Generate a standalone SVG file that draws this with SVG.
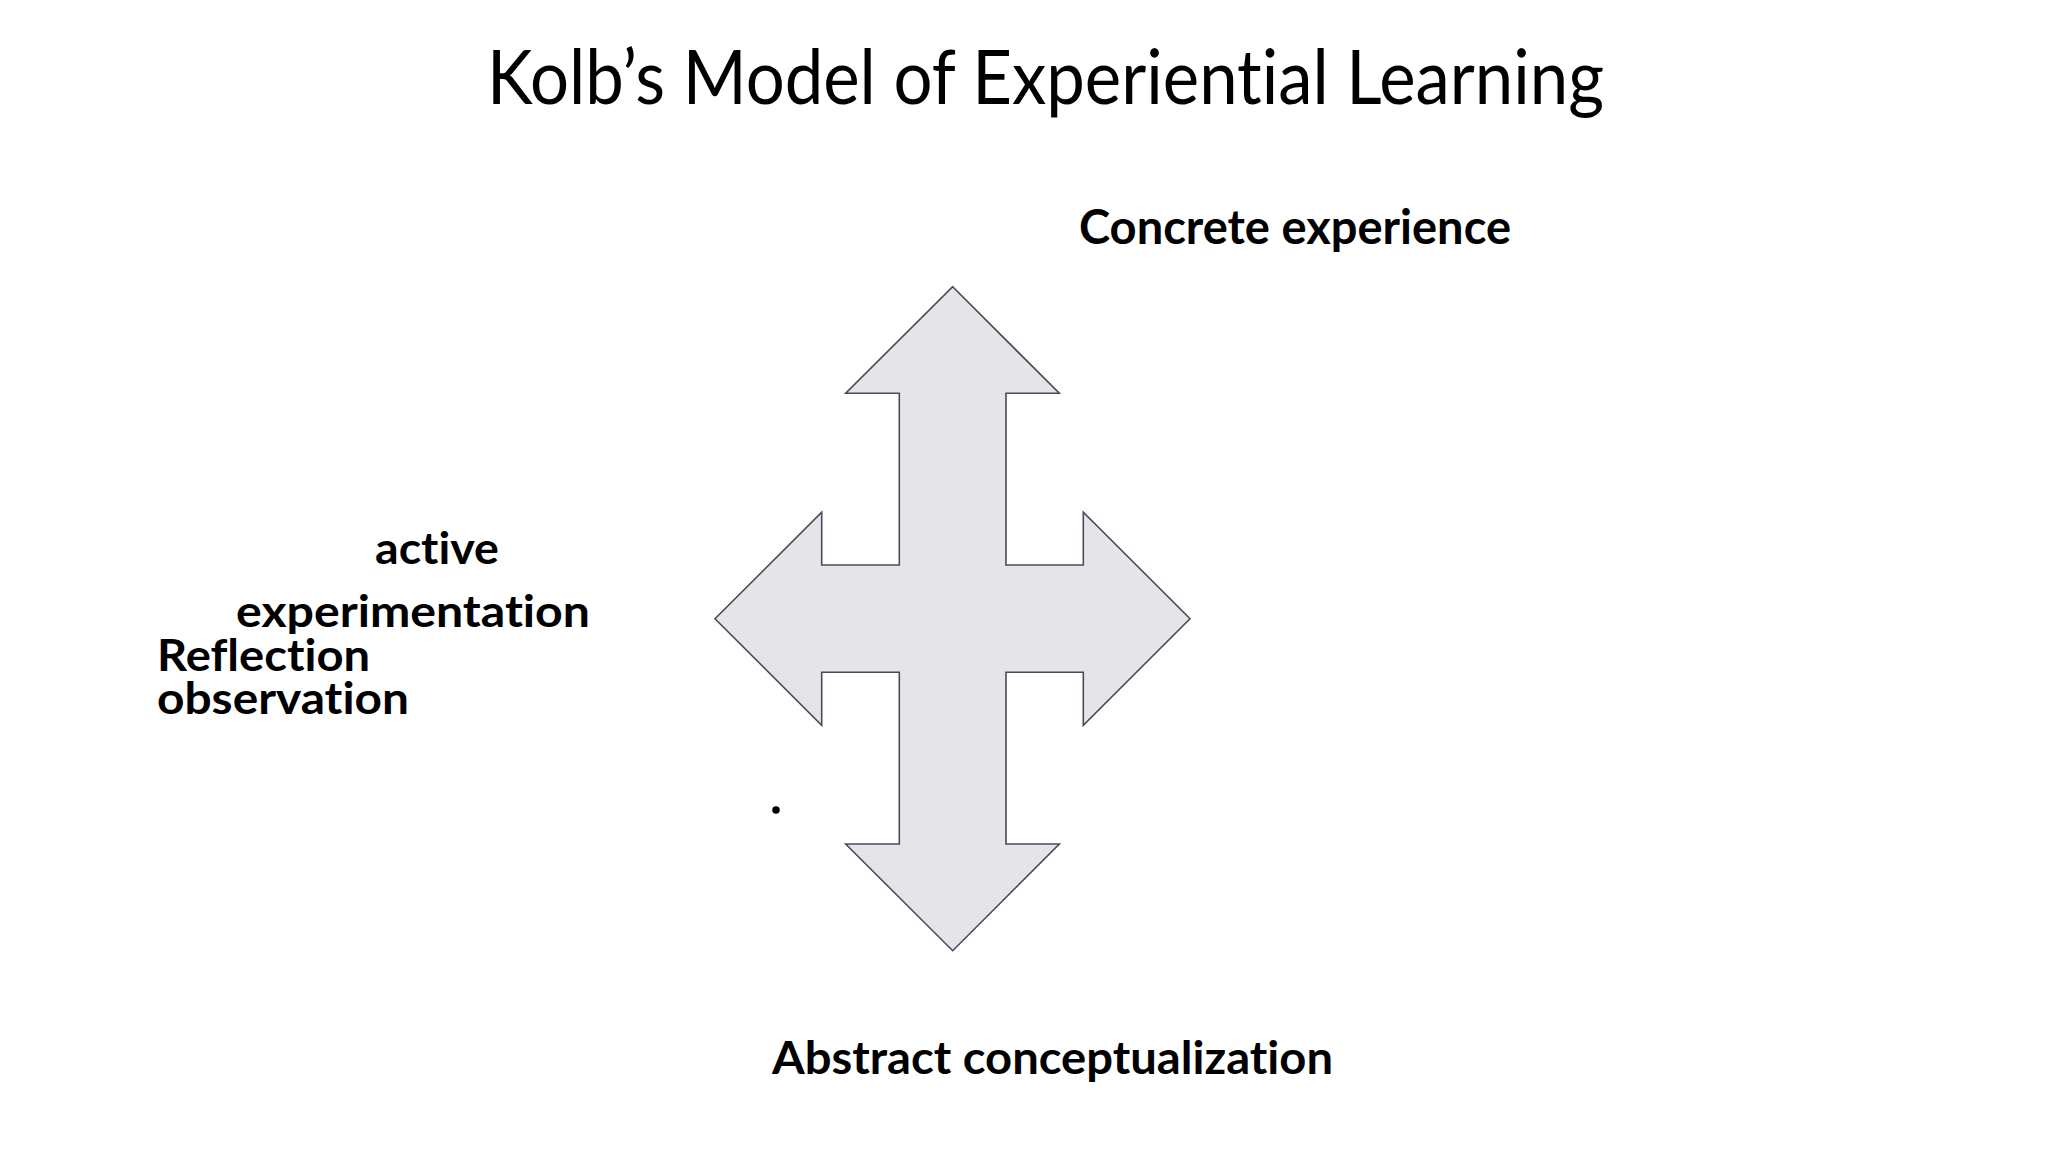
<svg xmlns="http://www.w3.org/2000/svg" width="2048" height="1152" viewBox="0 0 2048 1152">
  <style>
    text { font-variant-ligatures: none; }
    .title { font-family: Lato, "Liberation Sans", sans-serif; font-weight: 400; font-size: 76px; fill: #000; }
    .lbl { font-family: Lato, "Liberation Sans", sans-serif; font-weight: 700; fill: #000; }
    .arrow { fill: #E5E5E8; stroke: #4A4A5C; stroke-width: 1.6; stroke-linejoin: miter; }
  </style>
  <rect width="2048" height="1152" fill="#FFFFFF"/>
  <g id="title">
    <text class="title" x="487" y="104" textLength="1117" lengthAdjust="spacingAndGlyphs">Kolb’s Model of Experiential Learning</text>
  </g>
  <g id="quad-arrow">
    <polygon class="arrow" points="952.7,286.7 1059.3,393.3 1006,393.3 1006,565 1083.3,565 1083.3,512.3 1190,618.7 1083.3,725.3 1083.3,672.3 1006,672.3 1006,844 1059.3,844 952.7,950.7 845.7,844 899.3,844 899.3,672.3 821.7,672.3 821.7,725.3 715,618.7 821.7,512.3 821.7,565 899.3,565 899.3,393.3 845.7,393.3"/>
  </g>
  <g id="concrete-experience">
    <text class="lbl" x="1079" y="244" font-size="47" textLength="432" lengthAdjust="spacingAndGlyphs">Concrete experience</text>
  </g>
  <g id="active-experimentation">
    <text class="lbl" x="375" y="564" font-size="43" textLength="124" lengthAdjust="spacingAndGlyphs">active</text>
    <text class="lbl" x="236" y="627" font-size="43" textLength="354" lengthAdjust="spacingAndGlyphs">experimentation</text>
  </g>
  <g id="reflection-observation">
    <text class="lbl" x="157" y="671" font-size="43" textLength="213" lengthAdjust="spacingAndGlyphs">Reflection</text>
    <text class="lbl" x="157" y="714" font-size="43" textLength="252" lengthAdjust="spacingAndGlyphs">observation</text>
  </g>
  <g id="abstract-conceptualization">
    <text class="lbl" x="772" y="1074" font-size="46" textLength="561" lengthAdjust="spacingAndGlyphs">Abstract conceptualization</text>
  </g>
  <g id="connectors"></g>
  <circle cx="776" cy="810" r="3.8" fill="#000"/>
</svg>
